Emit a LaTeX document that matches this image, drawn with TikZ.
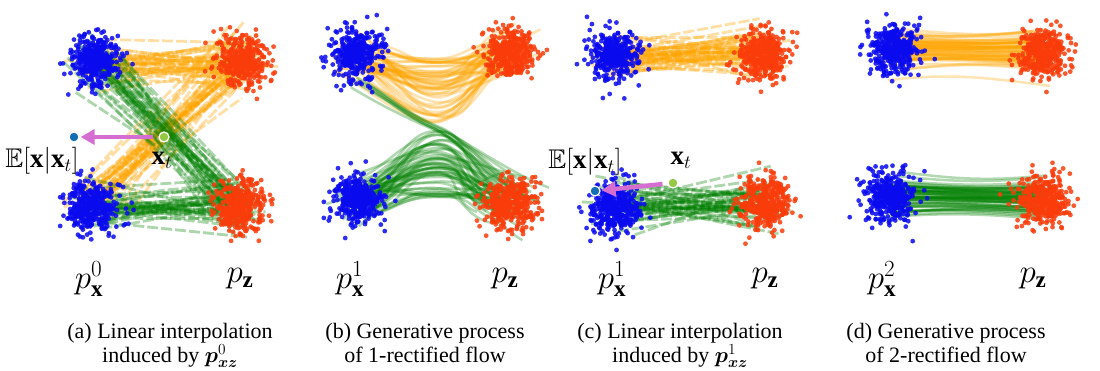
\documentclass[tikz,border=0pt]{standalone}
\usepackage{fix-cm}
\usepackage{amsmath,amssymb}
\usepackage{fontspec}
\setmainfont{Liberation Serif}
\newfontfamily\capfont{Liberation Serif}
\usetikzlibrary{arrows.meta}
\definecolor{cblue}{RGB}{10,10,240}
\definecolor{cred}{RGB}{250,60,10}
\definecolor{corange}{RGB}{255,165,0}
\definecolor{cgreen}{RGB}{0,128,0}
\definecolor{cpink}{RGB}{214,110,210}
\definecolor{cxt}{RGB}{150,200,70}
\definecolor{cedot}{RGB}{20,110,180}
\newcommand\rg[1]{\pgfmathsetmacro#1{sqrt(-2*ln(0.001+0.998*rnd))*cos(360*rnd)}}
\newcommand\mycluster[3]{%
  \foreach \k in {1,...,380}{%
    \rg\ga \rg\gb
    \fill[#3] (#1+12.5*\ga,#2+12.5*\gb) circle[radius=2.4];
  }}
\newcommand\sbundle[6]{%
  \foreach \k in {1,...,#5}{%
    \rg\ga \rg\gb \rg\gc \rg\gd
    \draw[#6] (#1+13*\ga,#2+13*\gb) -- (#3+13*\gc,#4+13*\gd);
  }}
\tikzset{
  bdot/.style={cblue,opacity=0.85},
  rdot/.style={cred,opacity=0.85},
  dashor/.style={corange,line width=2.8pt,dash pattern=on 11pt off 3pt,draw opacity=0.35},
  dashgr/.style={cgreen,line width=2.8pt,dash pattern=on 11pt off 3pt,draw opacity=0.32},
  solor/.style={corange,line width=2.5pt,draw opacity=0.3},
  solgr/.style={cgreen,line width=2.5pt,draw opacity=0.3},
  xtdot/.style={circle,fill=cxt,draw=white,line width=1.2pt,minimum size=10pt,inner sep=0pt},
  edot/.style={circle,fill=cedot,draw=white,line width=1.2pt,minimum size=10pt,inner sep=0pt},
  parrow/.style={cpink,line width=4.5pt,-{Triangle[length=14pt,width=15pt]},shorten >=1pt,shorten <=5pt},
  plabel/.style={font=\fontsize{33}{36}\selectfont,inner sep=0pt},
  mlabel/.style={font=\fontsize{27}{30}\selectfont,inner sep=0pt},
  caption/.style={font=\capfont\fontsize{22}{24}\selectfont,align=center,inner sep=0pt}
}
\begin{document}
\begin{tikzpicture}[x=1pt,y=-1pt]
\pgfmathsetseed{12}
\fill[white] (0,0) rectangle (1100,371);
\useasboundingbox (0,0) rectangle (1100,371);
% ---------------- panel (a) ----------------
\sbundle{95}{60}{243}{60}{40}{dashor}
\sbundle{92}{207}{243}{60}{40}{dashor}
\sbundle{95}{60}{240}{205}{40}{dashgr}
\sbundle{92}{207}{240}{205}{40}{dashgr}
\mycluster{95}{60}{bdot}
\mycluster{243}{60}{rdot}
\mycluster{92}{207}{bdot}
\mycluster{240}{205}{rdot}
\node[xtdot] (xta) at (164,137) {};
\node[edot] (ea) at (74,137) {};
\draw[parrow] (xta) -- (ea);
\node[mlabel] (ela) at (42,161) {$\mathbb{E}[\mathbf{x}|\mathbf{x}_t]$};
\node[mlabel] (xla) at (162,160) {$\mathbf{x}_t$};
% ---------------- panel (b) ----------------
\foreach \k in {1,...,50}{%
  \rg\ga \rg\gb \rg\gc \rg\gd \rg\ge
  \pgfmathsetmacro\dd{rnd^1.3}
  \pgfmathsetmacro\sx{357+12*\ga}\pgfmathsetmacro\sy{55+12*\gb}
  \pgfmathsetmacro\ex{510+12*\gc}\pgfmathsetmacro\ey{53+12*\gd}
  \pgfmathsetmacro\my{58+\dd*70}\pgfmathsetmacro\mx{437+4*\ge}
  \draw[solor] (\sx,\sy) .. controls (\sx+30,\sy+0.3*\my-0.3*\sy) and (\mx-30,\my) .. (\mx,\my) .. controls (\mx+30,\my) and (\ex-30,\ey+0.3*\my-0.3*\ey) .. (\ex,\ey);
}
\foreach \k in {1,...,50}{%
  \rg\ga \rg\gb \rg\gc \rg\gd \rg\ge
  \pgfmathsetmacro\dd{rnd^1.3}
  \pgfmathsetmacro\sx{358+12*\ga}\pgfmathsetmacro\sy{200+12*\gb}
  \pgfmathsetmacro\ex{510+12*\gc}\pgfmathsetmacro\ey{203+12*\gd}
  \pgfmathsetmacro\my{198-\dd*68}\pgfmathsetmacro\mx{437+4*\ge}
  \draw[solgr] (\sx,\sy) .. controls (\sx+30,\sy+0.3*\my-0.3*\sy) and (\mx-30,\my) .. (\mx,\my) .. controls (\mx+30,\my) and (\ex-30,\ey+0.3*\my-0.3*\ey) .. (\ex,\ey);
}
\foreach \k in {1,...,7}{%
  \rg\ga \rg\gb \rg\gc \rg\gd \rg\ge
  \pgfmathsetmacro\sx{362+5*\ga}\pgfmathsetmacro\sy{85+5*\gb}
  \pgfmathsetmacro\ex{528+8*\gc}\pgfmathsetmacro\ey{190+6*\gd}
  \pgfmathsetmacro\mx{437+3*\ge}
  \draw[solgr] (\sx,\sy) .. controls (\sx+25,\sy+15) and (\mx-30,115) .. (\mx,128) .. controls (\mx+30,141) and (\ex-40,\ey-15) .. (\ex,\ey);
}
\mycluster{357}{55}{bdot}
\mycluster{510}{53}{rdot}
\mycluster{358}{200}{bdot}
\mycluster{510}{203}{rdot}
% ---------------- panel (c) ----------------
\sbundle{615}{55}{763}{55}{50}{dashor}
\sbundle{615}{207}{765}{202}{50}{dashgr}
\mycluster{615}{55}{bdot}
\mycluster{763}{55}{rdot}
\mycluster{615}{207}{bdot}
\mycluster{765}{202}{rdot}
\node[xtdot] (xtc) at (673,183) {};
\node[edot] (ec) at (595,191) {};
\draw[parrow] (xtc) -- (ec);
\node[mlabel] (elc) at (585,162) {$\mathbb{E}[\mathbf{x}|\mathbf{x}_t]$};
\node[mlabel] (xlc) at (681,160) {$\mathbf{x}_t$};
% ---------------- panel (d) ----------------
\foreach \k in {1,...,60}{%
  \rg\ga \rg\gb \rg\gc
  \pgfmathsetmacro\sy{50+10*\gb}\pgfmathsetmacro\ey{52+10*\gb+3*\gc}
  \draw[solor] (893+6*\ga,\sy) .. controls (950,50+0.75*\sy-37.5) and (985,52+0.75*\ey-39) .. (1043+6*\gc,\ey);
}
\foreach \k in {1,...,60}{%
  \rg\ga \rg\gb \rg\gc
  \pgfmathsetmacro\sy{197+10*\gb}\pgfmathsetmacro\ey{200+10*\gb+3*\gc}
  \draw[solgr] (890+6*\ga,\sy) .. controls (950,197+0.75*\sy-147.75) and (985,200+0.75*\ey-150) .. (1043+6*\gc,\ey);
}
\mycluster{893}{50}{bdot}
\mycluster{1043}{52}{rdot}
\mycluster{890}{197}{bdot}
\mycluster{1043}{200}{rdot}
% ---------------- labels ----------------
\node[plabel] (pa1) at (89,279) {$p_{\mathbf{x}}^0$};
\node[plabel] (pa2) at (240,279) {$p_{\mathbf{z}}$};
\node[plabel] (pb1) at (350,279) {$p_{\mathbf{x}}^1$};
\node[plabel] (pb2) at (505,279) {$p_{\mathbf{z}}$};
\node[plabel] (pc1) at (612,279) {$p_{\mathbf{x}}^1$};
\node[plabel] (pc2) at (765,279) {$p_{\mathbf{z}}$};
\node[plabel] (pd1) at (882,279) {$p_{\mathbf{x}}^2$};
\node[plabel] (pd2) at (1033,279) {$p_{\mathbf{z}}$};
\node[caption,anchor=base] (capa) at (170,362) {(a) Linear interpolation\\induced by $\boldsymbol{p}^0_{\boldsymbol{xz}}$};
\node[caption,anchor=base] (capb) at (425,362) {(b) Generative process\\of 1-rectified flow};
\node[caption,anchor=base] (capc) at (680,362) {(c) Linear interpolation\\induced by $\boldsymbol{p}^1_{\boldsymbol{xz}}$};
\node[caption,anchor=base] (capd) at (946,362) {(d) Generative process\\of 2-rectified flow};
\end{tikzpicture}
\end{document}
